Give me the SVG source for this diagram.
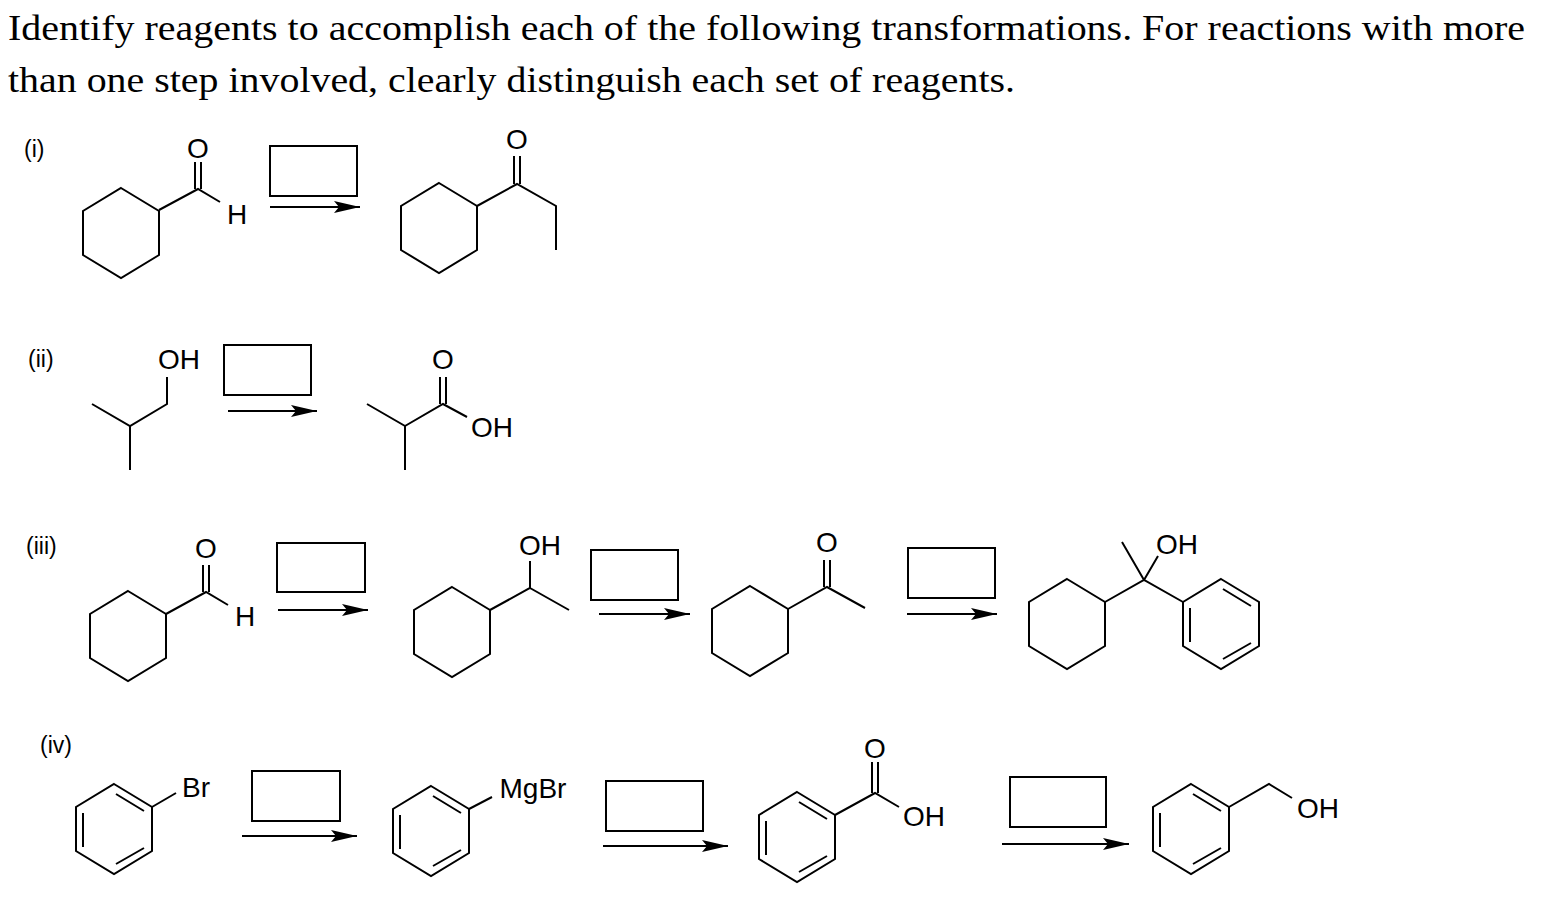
<svg xmlns="http://www.w3.org/2000/svg" xmlns:xlink="http://www.w3.org/1999/xlink" width="1560" height="898" viewBox="0 0 1560 898">
<style>
.b{fill:none;stroke:#000;stroke-width:2}
.a{font-family:"Liberation Sans",Arial,sans-serif;font-size:28px;text-anchor:middle}
.l{font-family:"Liberation Sans",Arial,sans-serif;font-size:23px}
.t{font-family:"Liberation Serif","Times New Roman",serif;font-size:35px}
.box{fill:none;stroke:#000;stroke-width:2}
</style>
<defs>
<marker id="ah" markerWidth="26" markerHeight="12" refX="26" refY="6" orient="auto" markerUnits="userSpaceOnUse"><path d="M0,0 L26,6 L0,12 L5,6 Z" fill="#000"/></marker>
<path id="hex" d="M0,-45 L38,-22 L38,22 L0,45 L-38,22 L-38,-22 Z" class="b"/>
<g id="benz"><path d="M0,-45 L38,-22 L38,22 L0,45 L-38,22 L-38,-22 Z" class="b"/><path d="M2,-35 L30,-18 M-31,-16 L-31,18 M2,35 L30,19" class="b"/></g>
</defs>
<rect width="1560" height="898" fill="#fff"/>
<text class="t" x="8" y="40" textLength="1517" lengthAdjust="spacingAndGlyphs">Identify reagents to accomplish each of the following transformations. For reactions with more</text>
<text class="t" x="8" y="92" textLength="1007" lengthAdjust="spacingAndGlyphs">than one step involved, clearly distinguish each set of reagents.</text>
<text class="l" x="24" y="157">(i)</text>
<text class="l" x="28" y="367">(ii)</text>
<text class="l" x="26" y="554">(iii)</text>
<text class="l" x="40" y="753">(iv)</text>

<g id="r1a"><use href="#hex" x="121" y="233"/><path class="b" d="M159,210 L198,189 L220,202 M195,189 L195,162 M201,189 L201,162"/><text class="a" x="198" y="158">O</text><text class="a" x="237" y="224">H</text></g>
<g id="r1b"><use href="#hex" x="439" y="228"/><path class="b" d="M477,206 L517,184 L556,206 L556,250 M514,184 L514,156 M520,184 L520,156"/><text class="a" x="517" y="149">O</text></g>
<g id="r2a"><path class="b" d="M167,377 L167,404 L130,426 L92,404 M130,426 L130,470"/><text class="a" x="179" y="369">OH</text></g>
<g id="r2b"><path class="b" d="M367,404 L405,426 L405,470 M405,426 L443,404 L467,417 M440,404 L440,377 M446,404 L446,377"/><text class="a" x="443" y="369">O</text><text class="a" x="492" y="437">OH</text></g>
<g id="r3a"><use href="#hex" x="128" y="636"/><path class="b" d="M166,614 L206,592 L228,605 M203,592 L203,565 M209,592 L209,565"/><text class="a" x="206" y="558">O</text><text class="a" x="245" y="626">H</text></g>
<g id="r3b"><use href="#hex" x="452" y="632"/><path class="b" d="M490,610 L530,588 L530,561 M530,588 L569,610"/><text class="a" x="540" y="555">OH</text></g>
<g id="r3c"><use href="#hex" x="750" y="631"/><path class="b" d="M788,609 L827,587 L865,608 M824,587 L824,560 M830,587 L830,560"/><text class="a" x="827" y="552">O</text></g>
<g id="r3d"><use href="#hex" x="1067" y="624"/><use href="#benz" x="1221" y="624"/><path class="b" d="M1105,602 L1144,580 L1183,602 M1144,580 L1122,542 M1144,580 L1158,556"/><text class="a" x="1177" y="554">OH</text></g>
<g id="r4a"><use href="#benz" x="114" y="829"/><path class="b" d="M152,807 L176,793"/><text class="a" x="196" y="797">Br</text></g>
<g id="r4b"><use href="#benz" x="431" y="831"/><path class="b" d="M469,809 L492,797"/><text class="a" x="533" y="798">MgBr</text></g>
<g id="r4c"><use href="#benz" x="797" y="837"/><path class="b" d="M835,815 L875,793 L899,807 M872,793 L872,762 M878,793 L878,762"/><text class="a" x="875" y="758">O</text><text class="a" x="924" y="826">OH</text></g>
<g id="r4d"><use href="#benz" x="1191" y="829"/><path class="b" d="M1229,807 L1269,784 L1292,798"/><text class="a" x="1318" y="818">OH</text></g>

<g id="boxes">
<rect class="box" x="270" y="146" width="87" height="50"/>
<rect class="box" x="224" y="345" width="87" height="50"/>
<rect class="box" x="277" y="543" width="88" height="49"/>
<rect class="box" x="591" y="550" width="87" height="50"/>
<rect class="box" x="908" y="548" width="87" height="50"/>
<rect class="box" x="252" y="771" width="88" height="50"/>
<rect class="box" x="606" y="781" width="97" height="50"/>
<rect class="box" x="1010" y="777" width="96" height="50"/>
</g>
<g id="connectors" class="b" marker-end="url(#ah)">
<path d="M270,207 L360,207"/>
<path d="M228,411 L317,411"/>
<path d="M278,610 L368,610"/>
<path d="M599,614 L690,614"/>
<path d="M907,614 L997,614"/>
<path d="M242,836 L357,836"/>
<path d="M603,846 L728,846"/>
<path d="M1002,844 L1129,844"/>
</g>
</svg>
